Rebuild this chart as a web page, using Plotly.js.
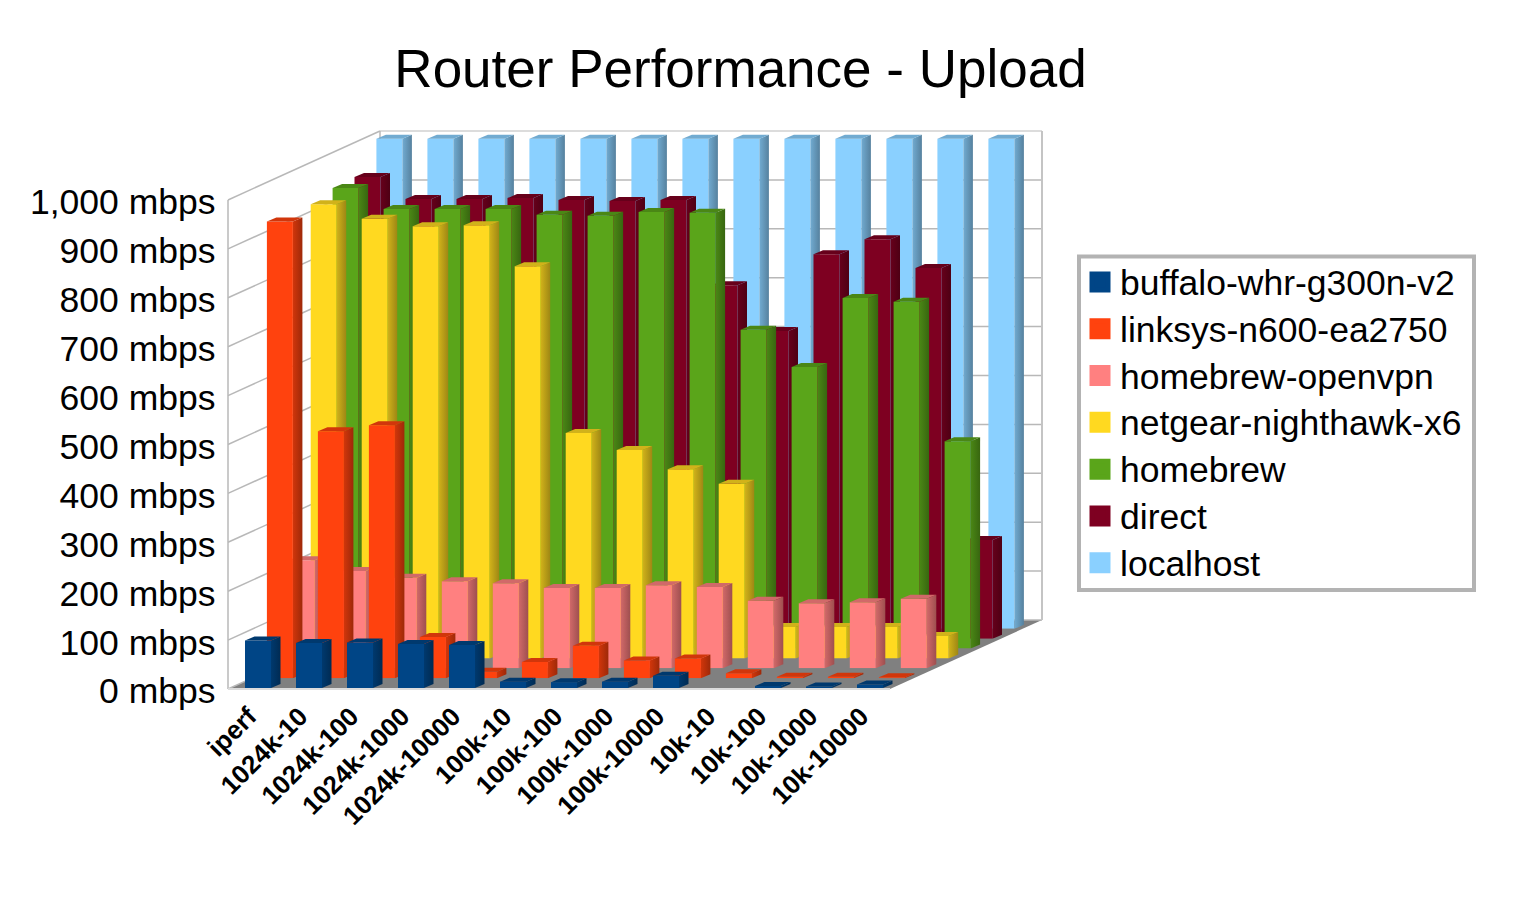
<!DOCTYPE html>
<html><head><meta charset="utf-8">
<script src="https://cdn.plot.ly/plotly-3.0.1.min.js"></script>
<style>html,body{margin:0;padding:0;background:#fff}
.legendtext{font-size:35.5px !important}</style>
</head><body><div id="chart" style="width:1536px;height:900px"></div>
<script>
const categories = ["iperf","1024k-10","1024k-100","1024k-1000","1024k-10000","100k-10","100k-100","100k-1000","100k-10000","10k-10","10k-100","10k-1000","10k-10000"];
const seriesNames = ["buffalo-whr-g300n-v2","linksys-n600-ea2750","homebrew-openvpn","netgear-nighthawk-x6","homebrew","direct","localhost"];
const seriesColors = ["#004586","#ff420e","#ff8080","#ffd920","#5aa51a","#7e0021","#8ad0ff"];
const buffalo  = [97,92,93,90,88,13,12,13,25,null,4,3,7];
const linksys  = [934,505,517,84,13,33,66,36,40,10,3,3,2];
const openvpn  = [221,199,185,178,174,164,164,170,166,138,133,135,142];
const netgear  = [929,899,884,886,802,461,426,387,357,64,64,64,46];
const homebrew = [942,899,899,899,887,885,893,891,652,576,717,709,424];
const direct   = [944,899,899,901,897,895,897,723,629,786,817,758,202];
const localhost= [1002,1002,1002,1002,1002,1002,1002,1002,1002,1002,1002,1002,1002];
const seriesValues = [buffalo,linksys,openvpn,netgear,homebrew,direct,localhost];
const yTicks = [0,100,200,300,400,500,600,700,800,900,1000];
const yTickLabels = ["0 mbps","100 mbps","200 mbps","300 mbps","400 mbps","500 mbps","600 mbps","700 mbps","800 mbps","900 mbps","1,000 mbps"];

// projection of the oblique 3D view, in pixels
const W=1536,H=900, pitch=51, yScale=0.489, stepX=21.9, stepY=9.86;
const frontX=232.5, frontY=688, barW=26, depthX=9.5, depthY=4, yMax=1100;
const px=x=>x/W, py=y=>1-y/H;
function shade(hex,f){const n=parseInt(hex.slice(1),16);
  return `rgb(${Math.round((n>>16&255)*f)},${Math.round((n>>8&255)*f)},${Math.round((n&255)*f)})`;}

const traces=[], layout={
  width:W,height:H,margin:{l:0,r:0,t:0,b:0},paper_bgcolor:"#fff",plot_bgcolor:"rgba(0,0,0,0)",
  font:{family:"'Liberation Sans',Arial,sans-serif",color:"#000"},showlegend:true,hovermode:false,barmode:"overlay",
  title:{text:"Router Performance - Upload",font:{size:53,color:"#000"},x:740.5/W,xanchor:"center",y:py(68),yanchor:"middle",xref:"paper",yref:"paper"},
  legend:{x:px(1080),y:py(253.5),xanchor:"left",yanchor:"top",bgcolor:"rgba(0,0,0,0)",borderwidth:0,
    font:{size:33.7,color:"#000"},traceorder:"normal",itemclick:false,itemdoubleclick:false},
  shapes:[{type:"rect",xref:"paper",yref:"paper",layer:"below",x0:px(1079),x1:px(1474),y0:py(256.5),y1:py(590),line:{color:"#b3b3b3",width:4},fillcolor:"#fff"}]
};
// label axes: x tick labels and y tick labels
const labelX=frontX-9;
layout.xaxis={domain:[px(labelX),px(labelX+13*pitch)],range:[-0.5,12.5],anchor:"y",fixedrange:true,showgrid:false,zeroline:false,showline:false,
  tickmode:"array",tickvals:categories.map((_,j)=>j),ticktext:categories,tickangle:-45,ticks:"",tickfont:{size:26,color:"#000",weight:"bold"},ticklabelstandoff:4};
layout.yaxis={domain:[py(691),py(691-yScale*1000)],range:[0,1000],anchor:"x",tickmode:"array",tickvals:yTicks,ticktext:yTickLabels,
  ticks:"",ticklabelstandoff:7,showgrid:false,zeroline:false,showline:false,
  tickfont:{size:35.5,color:"#000"},fixedrange:true,position:0};
// legend entries
seriesNames.forEach((n,i)=>traces.push({type:"scatter",mode:"markers",x:[null],y:[null],name:n,xaxis:"x",yaxis:"y",
  marker:{symbol:"square",size:16,color:seriesColors[i],line:{color:seriesColors[i],width:5}}}));
// walls and floor
const gridC="#b8b8b8";
function line(x0,y0,x1,y1,c,w){layout.shapes.push({type:"line",xref:"paper",yref:"paper",layer:"below",x0:px(x0),y0:py(y0),x1:px(x1),y1:py(y1),line:{color:c||gridC,width:w||1.5}});}
layout.shapes.push({type:"path",xref:"paper",yref:"paper",layer:"below",line:{width:0},fillcolor:"#808080",
  path:`M${px(228)},${py(689)}L${px(890)},${py(689)}L${px(1042)},${py(620)}L${px(380)},${py(620)}Z`});
yTicks.forEach(v=>{const d=v*yScale;
  line(228,689-d,380,620-d); line(380,620-d,1042,620-d, v===1000?"#dcdcdc":gridC, v===1000?2:1.5);});
line(228,689,228,689-1000*yScale); line(380,620,380,620-1000*yScale); line(1042,620,1042,620-1000*yScale,"#c4c4c4",2);
line(228,689,890,689,"#dcdcdc",2);

// series, back to front, each on its own shifted axes
for(let i=6;i>=0;i--){
  const k=8-i, c=seriesColors[i], vals=seriesValues[i];
  const ax=`x${k}`, ay=`y${k}`;
  const x0=frontX+i*stepX, y0=frontY-i*stepY;
  layout[`xaxis${k}`]={domain:[px(x0),px(x0+13*pitch)],range:[-0.5,12.5],anchor:ay,fixedrange:true,visible:false};
  layout[`yaxis${k}`]={domain:[py(y0),py(y0-yMax*yScale)],range:[0,yMax],anchor:ax,visible:false,fixedrange:true};
  const w=barW/pitch/2, dx=depthX/pitch, dy=depthY/yScale;
  traces.push({type:"bar",x:categories.map((_,j)=>j),y:vals,width:barW/pitch,xaxis:ax,yaxis:ay,showlegend:false,
    marker:{color:c,line:{width:0}},name:seriesNames[i]});
  vals.forEach((v,j)=>{
    if(v===null) return;
    traces.push({type:"scatter",mode:"lines",line:{width:0},showlegend:false,xaxis:ax,yaxis:ay,fill:"toself",
      fillgradient:{type:"horizontal",colorscale:[[0,shade(c,0.82)],[1,shade(c,0.62)]]},
      x:[j+w,j+w+dx,j+w+dx,j+w,j+w],y:[0,dy,v+dy,v,0]});
    traces.push({type:"scatter",mode:"lines",line:{width:0},showlegend:false,xaxis:ax,yaxis:ay,fill:"toself",fillcolor:shade(c,0.82),
      x:[j-w,j+w,j+w+dx,j-w+dx,j-w],y:[v,v,v+dy,v+dy,v]});
  });
}
Plotly.newPlot("chart",traces,layout,{displayModeBar:false,staticPlot:true});
</script></body></html>
